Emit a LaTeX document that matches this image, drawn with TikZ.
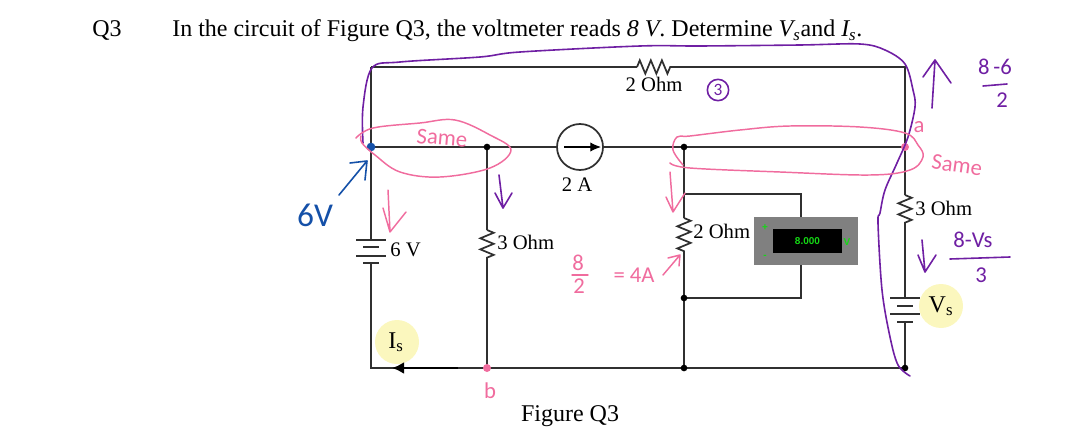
\documentclass[tikz,border=0pt]{standalone}
\usepackage{fontspec}
\setmainfont{Liberation Serif}
\newfontfamily\meterfont{Liberation Sans}
\newfontfamily\handfont{Carlito}
\usetikzlibrary{decorations.pathmorphing,arrows.meta}
\definecolor{wirec}{HTML}{303030}
\definecolor{pinkink}{HTML}{F06C9E}
\definecolor{purpink}{HTML}{6F1FA3}
\definecolor{blueink}{HTML}{1450A8}
\definecolor{hilite}{HTML}{FBF7BE}
\definecolor{metergray}{HTML}{808080}
\definecolor{metergreen}{HTML}{14D814}
\tikzset{
 wire/.style={draw=wirec,line width=1.3pt},
 res/.style={wire,decorate,decoration={zigzag,segment length=8.3pt,amplitude=5pt}},
 plate/.style={draw=wirec,line width=1.3pt},
 dot/.style={circle,fill=black,inner sep=0pt,minimum size=5pt},
 lbl/.style={inner sep=0pt,text=black,font=\fontsize{15.5}{17}\selectfont},
 big/.style={inner sep=0pt,text=black,font=\fontsize{18}{20}\selectfont},
 hl/.style={circle,fill=hilite,minimum size=33pt,inner sep=0pt},
 pinkstroke/.style={draw=pinkink,line width=1.1pt,line cap=round,line join=round},
 purpstroke/.style={draw=purpink,line width=1.2pt,line cap=round,line join=round},
 bluestroke/.style={draw=blueink,line width=1.2pt,line cap=round,line join=round},
 pinktext/.style={inner sep=0pt,text=pinkink,font=\handfont\fontsize{17}{18}\selectfont},
 purptext/.style={inner sep=0pt,text=purpink,font=\handfont\fontsize{17}{18}\selectfont},
 bluetext/.style={inner sep=0pt,text=blueink,font=\handfont\fontsize{25}{26}\selectfont},
 mtext/.style={inner sep=0pt,text=metergreen,font=\meterfont\bfseries\fontsize{7.5}{8}\selectfont},
}
\begin{document}
\begin{tikzpicture}[x=0.75pt,y=-0.75pt]
\useasboundingbox (0,0) rectangle (1092,435);
% highlights
\node[hl] (hlI) at (397,342) {};
\node[hl] (hlV) at (941,306) {};
% coordinates
\coordinate (TL) at (371,67); \coordinate (TR) at (905,67);
\coordinate (ML) at (371,147); \coordinate (MR) at (905,147);
\coordinate (BL) at (371,368); \coordinate (BR) at (905,368);
\coordinate (N1) at (487,147); \coordinate (B1) at (487,368);
\coordinate (N2) at (684,147); \coordinate (B2) at (684,368);
\coordinate (J2) at (684,194); \coordinate (J3) at (684,298);
\coordinate (C2) at (801,194); \coordinate (C3) at (801,298);
\coordinate (R3a) at (637,67); \coordinate (R3b) at (673,67);
\coordinate (R1a) at (487,230); \coordinate (R1b) at (487,263);
\coordinate (R2a) at (684,218); \coordinate (R2b) at (684,252);
\coordinate (R4a) at (905,195); \coordinate (R4b) at (905,228);
\coordinate (E1a) at (371,240); \coordinate (E1b) at (371,263);
\coordinate (E2a) at (905,298); \coordinate (E2b) at (905,322);
\coordinate (IsTail) at (458,368); \coordinate (IsTip) at (392,368);
% current source
\node[circle,draw=wirec,line width=1.3pt,minimum size=34.5pt,inner sep=0pt] (cs) at (580,147) {};
% meter
\node[rectangle,fill=metergray,minimum width=78pt,minimum height=36pt,inner sep=0pt] (meter) at (806,241) {};
\node[rectangle,fill=black,minimum width=51.75pt,minimum height=18pt,inner sep=0pt,mtext] (disp) at (807.5,241) {8.000};
\node[mtext] (mv) at (847,242) {V};
\node[mtext] (mp) at (765,228) {+};
\node[mtext] (mm) at (765,257) {-};
% wires
\draw[wire] (R1a |- ML) -- (ML);
\draw[wire] (TL) -- (R3a);
\draw[res] (R3a) -- (R3b);
\draw[wire] (R3b) -- (TR) -- (MR) -- (R4a);
\draw[res] (R4a) -- (R4b);
\draw[wire] (R4b) -- (E2a);
\draw[wire] (E2b) -- (BR) -- (BL) -- (E1b);
\draw[wire] (E1a) -- (TL);
\draw[wire] (N1) -- (cs.west);
\draw[wire] (cs.east) -- (MR);
\draw[wire] (N1) -- (R1a);
\draw[res] (R1a) -- (R1b);
\draw[wire] (R1b) -- (B1);
\draw[wire] (N2) -- (R2a);
\draw[res] (R2a) -- (R2b);
\draw[wire] (R2b) -- (B2);
\draw[wire] (J2) -- (C2) -- (meter.north -| C2);
\draw[wire] (meter.south -| C2) -- (C3) -- (J3);
% batteries
\draw[plate] ([xshift=-11pt]E1a) -- ([xshift=11pt]E1a);
\draw[plate] ([xshift=-6pt,yshift=-5.5pt]E1a) -- ([xshift=6pt,yshift=-5.5pt]E1a);
\draw[plate] ([xshift=-11pt,yshift=-12pt]E1a) -- ([xshift=11pt,yshift=-12pt]E1a);
\draw[plate] ([xshift=-6pt]E1b) -- ([xshift=6pt]E1b);
\draw[plate] ([xshift=-11pt]E2a) -- ([xshift=11pt]E2a);
\draw[plate] ([xshift=-6pt,yshift=-6pt]E2a) -- ([xshift=6pt,yshift=-6pt]E2a);
\draw[plate] ([xshift=-11pt,yshift=-12pt]E2a) -- ([xshift=11pt,yshift=-12pt]E2a);
\draw[plate] ([xshift=-6pt]E2b) -- ([xshift=6pt]E2b);
% source arrow and Is arrow
\draw[draw=black,line width=0.9pt,-{Latex[length=8pt,width=7pt]}] (cs.center) ++(-16,0) coordinate (csa) -- ++(37,0) coordinate (csb);
\draw[draw=black,line width=2pt,-{Latex[length=9pt,width=9pt]}] (IsTail) -- (IsTip);
% dots
\node[dot] (d1) at (N1) {};
\node[dot] (d2) at (N2) {};
\node[dot] (d3) at (B2) {};
\node[dot] (d4) at (J3) {};
\node[dot] (d5) at (BR) {};
\node[circle,fill=blueink,inner sep=0pt,minimum size=6.5pt] (d6) at (ML) {};
\node[circle,fill=pinkink,inner sep=0pt,minimum size=6pt] (d7) at (MR) {};
\node[circle,fill=pinkink,inner sep=0pt,minimum size=6pt] (d8) at (B1) {};
% printed text
\node[big,anchor=base west] (q) at (92,37) {Q3};
\node[big,anchor=base west] (title) at (172,37) {In the circuit of Figure Q3, the voltmeter reads \textit{8 V}. Determine \textit{V\textsubscript{s}}and \textit{I\textsubscript{s}}.};
\node[big,anchor=base] (fig) at (570,421) {Figure Q3};
\node[lbl,anchor=base] (l1) at (654,92) {2 Ohm};
\node[lbl,anchor=base] (l2) at (577,191) {2 A};
\node[lbl,anchor=base west] (l3) at (497,249) {3 Ohm};
\node[lbl,anchor=base west] (l4) at (390,256) {6 V};
\node[lbl,anchor=base west] (l5) at (693,238) {2 Ohm};
\node[lbl,anchor=base west] (l6) at (915,215) {3 Ohm};
\node[inner sep=0pt,font=\fontsize{18}{20}\selectfont] (lI) at (396,342) {I\textsubscript{s}};
\node[inner sep=0pt,font=\fontsize{18}{20}\selectfont] (lV) at (941,306) {V\textsubscript{s}};
% purple loop
\draw[purpstroke] plot[smooth,tension=0.55] coordinates {(363,143) (363,107) (372,68) (400,62) (480,57) (520,52) (640,46) (700,46) (800,45) (860,44) (885,50) (905,64) (913,90) (915,107) (908,137) (897,163) (885,190) (880,213) (878,223) (882,290) (890,337) (898,365) (910,376)};
% pink loops
\draw[pinkstroke] plot[smooth,tension=0.6] coordinates {(356,138) (373,128) (420,123) (455,120) (490,135) (511,150) (490,168) (440,177) (400,172) (375,155) (362,143) (361,136)};
\draw[pinkstroke] plot[smooth,tension=0.6] coordinates {(670,163) (690,168) (780,172) (870,175) (910,170) (923,157) (918,145) (905,133) (860,127) (790,126) (740,130) (690,136) (677,137) (673,150) (683,165)};
% hand arrows
\draw[pinkstroke] (388,190) -- (390,232) coordinate (pa1) (383,208) -- (pa1) -- (406,212);
\draw[purpstroke] (499,175) -- (503,208) coordinate (pa2) (495,193) -- (pa2) -- (512,193);
\draw[pinkstroke] (670,172) -- (673,212) coordinate (pa3) (666,197) -- (pa3) -- (685,193);
\draw[bluestroke] (339,195) -- (367,161) coordinate (pa4) (350,163) -- (pa4) -- (365,180);
\draw[purpstroke] (932,108) -- (935,60) coordinate (pa5) (923,77) -- (pa5) -- (951,83);
\draw[purpstroke] (922,240) -- (925,272) coordinate (pa6) (918,255) -- (pa6) -- (936,255);
\draw[pinkstroke] (663,275) -- (680,255) coordinate (pa7) (668,258) -- (pa7) -- (679,266);
% hand text
\node[pinktext,rotate=-5] (s1) at (442,138) {Same};
\node[pinktext,rotate=-8] (s2) at (957,165) {Same};
\node[pinktext] (ha) at (919,127) {a};
\node[pinktext] (hb) at (490,391) {b};
\node[bluetext] (h6) at (315,215) {6V};
\node[purptext] (h86) at (995,67) {8\,-6};
\draw[purpstroke] (983,86) -- (1007,84);
\node[purptext] (h2) at (1002,100) {2};
\node[purptext] (h8v) at (973,240) {8-Vs};
\draw[purpstroke] (950,259) -- (1010,257);
\node[purptext] (h3) at (981,275) {3};
\node[circle,draw=purpink,line width=1.2pt,minimum size=16pt,inner sep=0pt,text=purpink,font=\handfont\fontsize{13}{14}\selectfont] (c3) at (718,90) {3};
\node[pinktext] (h8) at (578,263) {8};
\draw[pinkstroke] (572,275) -- (588,275);
\node[pinktext] (h22) at (579,286) {2};
\node[pinktext] (h4a) at (634,275) {= 4A};
\end{tikzpicture}
\end{document}
